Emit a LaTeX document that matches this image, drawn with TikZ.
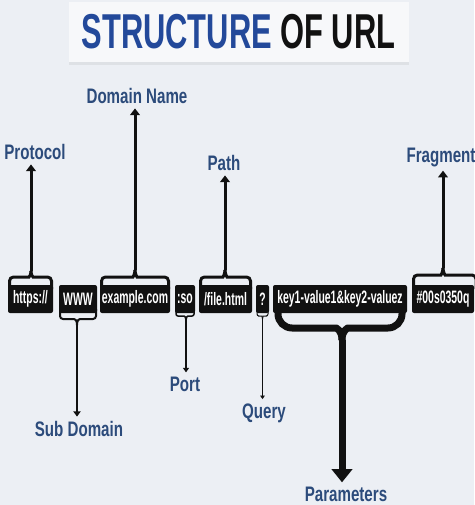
\documentclass[tikz,border=0pt]{standalone}
\usepackage{fontspec}
\setmainfont{Liberation Sans}
\newfontfamily\ttlfont[FakeStretch=0.63]{Liberation Sans}
\newfontfamily\lblfont[FakeStretch=0.72]{Liberation Sans}
\newfontfamily\boxfont[FakeStretch=0.58]{Liberation Sans}
\usetikzlibrary{arrows.meta,calc,shadows}
\definecolor{Paper}{HTML}{ECEFF4}
\definecolor{Card}{HTML}{F7F8FA}
\definecolor{Ink}{HTML}{111111}
\definecolor{TitleBlue}{HTML}{23499A}
\definecolor{LabelBlue}{HTML}{2C4B7B}
\tikzset{
  urlbox/.style={fill=Ink,rounded corners=2pt,minimum height=28pt,inner sep=0pt,text=white,font=\boxfont\bfseries\fontsize{18}{18}\selectfont},
  partlbl/.style={anchor=base,inner sep=2pt,text=LabelBlue,font=\lblfont\bfseries\fontsize{21}{21}\selectfont},
  brc/.style={draw=Ink,rounded corners=4pt},
  ptr/.style={draw=Ink,shorten >=2pt,-{Triangle[length=2pt 1.6,width=2pt 2.6]}}
}

\begin{document}
\begin{tikzpicture}[x=1pt,y=-1pt]
\useasboundingbox (0,0) rectangle (474,505);
\fill[Paper] (0,0) rectangle (474,505);
% title card
\node[fill=Card,drop shadow={opacity=0.12,shadow xshift=0pt,shadow yshift=-3pt},minimum width=340pt,minimum height=60pt,inner sep=0pt,text=Ink,font=\ttlfont\bfseries\fontsize{49}{49}\selectfont] (ttl) at (238.5,32) {{\color{TitleBlue}STRUCTURE} OF URL};
% the url, part by part
\node[urlbox,minimum width=45pt] (proto) at (30.5,299) {https://};
\node[urlbox,minimum width=38pt] (sub) at (78,299) {WWW};
\node[urlbox,minimum width=70pt] (dom) at (135,299) {example.com};
\node[urlbox,minimum width=20pt] (port) at (185,299) {:so};
\node[urlbox,minimum width=53pt] (path) at (225.5,299) {/file.html};
\node[urlbox,minimum width=13pt] (query) at (262.5,299) {?};
\node[urlbox,minimum width=134pt] (params) at (340,299) {key1-value1\&key2-valuez};
\node[urlbox,minimum width=62pt] (frag) at (443,299) {\#00s0350q};
% labels
\node[partlbl] (protoLbl) at (35,160) {Protocol};
\node[partlbl] (domLbl) at (137,104) {Domain Name};
\node[partlbl] (pathLbl) at (224,171) {Path};
\node[partlbl] (fragLbl) at (441,162) {Fragment};
\node[partlbl] (subLbl) at (79,436) {Sub Domain};
\node[partlbl] (portLbl) at (185,391) {Port};
\node[partlbl] (queryLbl) at (264,418) {Query};
\node[partlbl] (paramsLbl) at (346,501) {Parameters};
% brace tips
\coordinate (protoCusp) at (31,271);
\coordinate (domCusp) at (135,270);
\coordinate (pathCusp) at (225,270);
\coordinate (fragCusp) at (443,268);
\coordinate (subCusp) at (77,325);
\coordinate (portCusp) at (186,320);
\coordinate (queryCusp) at (262.5,319);
\coordinate (paramsCusp) at (342,340);
% braces above
\draw[brc,line width=3pt] (9.5,289) |- (25,277) .. controls (29,277) and (31,275) .. (protoCusp);
\draw[brc,line width=3pt] (51.5,289) |- (37,277) .. controls (33,277) and (31,275) .. (protoCusp);
\draw[brc,line width=3pt] (101.5,289) |- (129,277) .. controls (133,277) and (135,274) .. (domCusp);
\draw[brc,line width=3pt] (168.5,289) |- (141,277) .. controls (137,277) and (135,274) .. (domCusp);
\draw[brc,line width=3pt] (200.5,289) |- (219,277) .. controls (223,277) and (225,274) .. (pathCusp);
\draw[brc,line width=3pt] (250.5,289) |- (231,277) .. controls (227,277) and (225,274) .. (pathCusp);
\draw[brc,line width=3pt] (413.5,289) |- (437,275) .. controls (441,275) and (443,272) .. (fragCusp);
\draw[brc,line width=3pt] (476,289) |- (449,275) .. controls (445,275) and (443,272) .. (fragCusp);
% braces below
\draw[brc,line width=2pt,rounded corners=3pt] (60,309) |- (71,319) .. controls (75,319) and (77,320) .. (subCusp);
\draw[brc,line width=2pt,rounded corners=3pt] (96,309) |- (83,319) .. controls (79,319) and (77,320) .. (subCusp);
\draw[brc,line width=1.5pt,rounded corners=2pt] (176,310) |- (182,316) .. controls (184.5,316) and (186,317) .. (portCusp);
\draw[brc,line width=1.5pt,rounded corners=2pt] (194,310) |- (190,316) .. controls (187.5,316) and (186,317) .. (portCusp);
\draw[brc,line width=1pt,rounded corners=2pt] (257,310) |- (260,316) .. controls (261.5,316) and (262.5,317) .. (queryCusp);
\draw[brc,line width=1pt,rounded corners=2pt] (268,310) |- (265,316) .. controls (263.5,316) and (262.5,317) .. (queryCusp);
\draw[brc,line width=7pt,rounded corners=14pt] (278,305) |- (322,328) .. controls (336,328) and (342,330) .. (paramsCusp);
\draw[brc,line width=7pt,rounded corners=14pt] (402,305) |- (362,328) .. controls (348,328) and (342,330) .. (paramsCusp);
% pointers
\draw[ptr,line width=3pt] (protoCusp) -- (protoCusp |- protoLbl.south);
\draw[ptr,line width=3pt] (domCusp) -- (domCusp |- domLbl.south);
\draw[ptr,line width=3pt] (pathCusp) -- (pathCusp |- pathLbl.south);
\draw[ptr,line width=3pt] (fragCusp) -- (fragCusp |- fragLbl.south);
\draw[ptr,line width=2pt] (subCusp) -- (subCusp |- subLbl.north);
\draw[ptr,line width=1.5pt] (portCusp) -- (portCusp |- portLbl.north);
\draw[ptr,line width=1pt] (queryCusp) -- (queryCusp |- queryLbl.north);
\draw[ptr,line width=7pt] (paramsCusp) -- (paramsCusp |- paramsLbl.north);
\end{tikzpicture}
\end{document}
